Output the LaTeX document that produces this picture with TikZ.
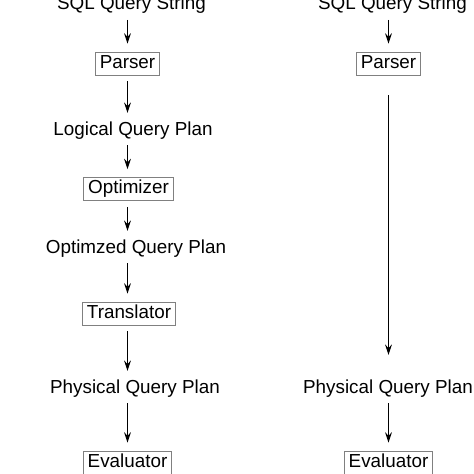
\documentclass[tikz,border=0pt]{standalone}
\usepackage{fontspec}
\setmainfont{Liberation Sans}
\usetikzlibrary{arrows.meta}

\begin{document}
\begin{tikzpicture}[x=0.025cm,y=-0.025cm,
        font=\fontsize{13.4}{16}\selectfont,
        plan/.style={anchor=base,inner sep=0pt,text height=0.345cm,text depth=0.1cm},
        stage/.style={draw=black!50,line width=0.5pt,inner xsep=0.11cm,inner ysep=0.065cm,text height=0.345cm,text depth=0.1cm},
        flow/.style={-{Stealth[length=0.26cm,width=0.17cm,inset=0.09cm]},line width=0.75pt,shorten <=0.15cm,shorten >=0.2cm}]
            \useasboundingbox (0,0) rectangle (474,474);
            \clip (0,0) rectangle (474,474);

            % left chain
            \node[plan] (sqll) at (131.5,9.5) {SQL Query String};
            \node[stage] (parserl) at (127.5,63.5) {Parser};
            \node[plan] (lqpl) at (133,135) {Logical Query Plan};
            \node[stage] (optl) at (128.5,189) {Optimizer};
            \node[plan] (oqpl) at (136,253) {Optimzed Query Plan};
            \node[stage] (transl) at (129,313.5) {Translator};
            \node[plan] (pqpl) at (135,393) {Physical Query Plan};
            \node[stage] (evall) at (127.5,462.5) {Evaluator};

            % right chain
            \node[plan] (sqlr) at (392.5,9.5) {SQL Query String};
            \node[stage] (parserr) at (388.5,63.5) {Parser};
            \node[plan] (pqpr) at (388,393) {Physical Query Plan};
            \node[stage] (evalr) at (388.5,462.5) {Evaluator};

            % arrows run straight down the column of the boxes
            \draw[flow] (parserl |- sqll.south) to (parserl.north);
            \draw[flow] (parserl.south) to (parserl |- lqpl.north);
            \draw[flow] (parserl |- lqpl.south) to (parserl |- optl.north);
            \draw[flow] (parserl |- optl.south) to (parserl |- oqpl.north);
            \draw[flow] (parserl |- oqpl.south) to (parserl |- transl.north);
            \draw[flow] (parserl |- transl.south) to (parserl |- pqpl.north);
            \draw[flow] (parserl |- pqpl.south) to (parserl |- evall.north);

            \draw[flow] (parserr |- sqlr.south) to (parserr.north);
            \draw[flow,shorten <=0.5cm,shorten >=0.6cm] (parserr.south) to (parserr |- pqpr.north);
            \draw[flow] (parserr |- pqpr.south) to (parserr |- evalr.north);
        \end{tikzpicture}
\end{document}
